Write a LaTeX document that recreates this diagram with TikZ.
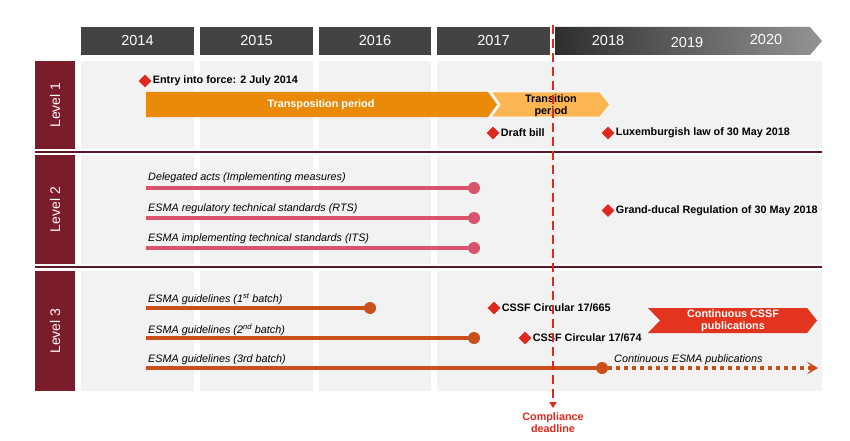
\documentclass[tikz,border=0pt]{standalone}
\usepackage{fontspec}
\setmainfont{Liberation Sans}
\usetikzlibrary{arrows.meta,shapes.geometric}
\definecolor{hdr}{HTML}{434343}
\definecolor{lvl}{HTML}{7B1C2B}
\definecolor{sepc}{HTML}{5C1A25}
\definecolor{bgc}{HTML}{F2F2F2}
\definecolor{orng}{HTML}{EA8A0B}
\definecolor{lorng}{HTML}{FBB552}
\definecolor{pinkl}{HTML}{D9536C}
\definecolor{brnl}{HTML}{C9501B}
\definecolor{redd}{HTML}{E0281E}
\definecolor{cssf}{HTML}{E2341F}
\begin{document}
\begin{tikzpicture}[x=1pt,y=-1pt,
  bigfont/.style={font=\fontsize{14.5}{16}\selectfont},
  yearbox/.style={bigfont,fill=hdr,text=white,minimum height=28pt,inner sep=0pt},
  yeartxt/.style={bigfont,text=white,inner sep=0pt},
  lvlbox/.style={font=\fontsize{14}{16}\selectfont,fill=lvl,text=white,rotate=90,minimum height=40pt,inner sep=0pt},
  bold/.style={font=\bfseries\fontsize{10.8}{12}\selectfont,inner sep=1pt},
  ital/.style={font=\itshape\fontsize{10.8}{12}\selectfont,inner sep=0pt,anchor=west},
  dia/.style={diamond,fill=redd,inner sep=0pt,minimum size=13pt},
  sepline/.style={sepc,line width=2pt},
  l2line/.style={pinkl,line width=3.5pt},
  l3line/.style={brnl,line width=3.5pt},
  dotp/.style={circle,fill=pinkl,inner sep=0pt,minimum size=12pt},
  dotb/.style={circle,fill=brnl,inner sep=0pt,minimum size=12pt},
]
\useasboundingbox (0,0) rectangle (850,441);
\fill[white] (0,0) rectangle (850,441);
% header
\node[yearbox,minimum width=113pt] (y14) at (137.5,41) {2014};
\node[yearbox,minimum width=113pt] (y15) at (256.5,41) {2015};
\node[yearbox,minimum width=112pt] (y16) at (375,41) {2016};
\node[yearbox,minimum width=113pt] (y17) at (493.5,41) {2017};
\shade[left color=black!82,right color=black!42] (555,27) -- (810,27) -- (822,41) -- (810,55) -- (555,55) -- cycle;
\node[yeartxt] (y18) at (608,41) {2018};
\node[yeartxt] (y19) at (687,42.5) {2019};
\node[yeartxt] (y20) at (766,40) {2020};
% background panels
\foreach \ya/\yb in {61/149,155/264,271/391}{
  \fill[bgc] (81,\ya) rectangle (194,\yb);
  \fill[bgc] (200,\ya) rectangle (313,\yb);
  \fill[bgc] (319,\ya) rectangle (431,\yb);
  \fill[bgc] (437,\ya) rectangle (822,\yb);
}
% level boxes
\node[lvlbox,minimum width=88pt] (lv1) at (55,105) {Level 1};
\node[lvlbox,minimum width=109pt] (lv2) at (55,209.5) {Level 2};
\node[lvlbox,minimum width=120pt] (lv3) at (55,331) {Level 3};
\draw[sepline] (35,151.5) -- (822,151.5);
\draw[sepline] (35,266.5) -- (822,266.5);
% level 1
\fill[orng] (146,92) -- (488,92) -- (497,104.5) -- (488,117) -- (146,117) -- cycle;
\node[bold,text=white] (tp) at (321,104.5) {Transposition period};
\filldraw[fill=lorng,draw=white,line width=1pt] (491,92) -- (600,92) -- (610,104.5) -- (600,117) -- (491,117) -- (500,104.5) -- cycle;
\node[bold,align=center,font=\bfseries\fontsize{10.8}{12}\selectfont] (trp) at (551,106) {Transition\\period};
\node[dia] (d1) at (145,81) {};
\node[bold,anchor=west] (t1) at (d1.east) {Entry into force: 2 July 2014};
\node[dia] (d2) at (493,133) {};
\node[bold,anchor=west] (t2) at (d2.east) {Draft bill};
\node[dia] (d3) at (608,133) {};
\node[bold,anchor=west] (t3) at (d3.east) {Luxemburgish law of 30 May 2018};
% level 2
\coordinate (a1) at (146,188);
\coordinate (a2) at (146,218);
\coordinate (a3) at (146,248);
\node[dotp] (e1) at (474,188) {};
\node[dotp] (e2) at (474,218) {};
\node[dotp] (e3) at (474,248) {};
\draw[l2line] (a1) -- (e1.center);
\draw[l2line] (a2) -- (e2.center);
\draw[l2line] (a3) -- (e3.center);
\node[ital] (la1) at (148,178) {Delegated acts (Implementing measures)};
\node[ital] (la2) at (148,208.5) {ESMA regulatory technical standards (RTS)};
\node[ital] (la3) at (148,238.5) {ESMA implementing technical standards (ITS)};
\node[dia] (d4) at (608,210.5) {};
\node[bold,anchor=west] (t4) at (d4.east) {Grand-ducal Regulation of 30 May 2018};
% level 3
\coordinate (b1) at (146,308);
\coordinate (b2) at (146,338);
\coordinate (b3) at (146,368);
\node[dotb] (f1) at (370,308) {};
\node[dotb] (f2) at (474,338) {};
\node[dotb] (f3) at (602,368) {};
\coordinate (fend) at (818,368);
\draw[l3line] (b1) -- (f1.center);
\draw[l3line] (b2) -- (f2.center);
\draw[l3line] (b3) -- (f3.center);
\draw[brnl,line width=3.5pt,dash pattern=on 4pt off 4pt,-{Stealth[length=11pt,width=13pt,inset=5pt,line width=0pt]}] (f3.east) -- (fend);
\node[ital] (lb1) at (148,299.5) {ESMA guidelines (1\textsuperscript{st} batch)};
\node[ital] (lb2) at (148,329.5) {ESMA guidelines (2\textsuperscript{nd} batch)};
\node[ital] (lb3) at (148,359.5) {ESMA guidelines (3rd batch)};
\node[ital] (lb4) at (614,359.5) {Continuous ESMA publications};
\node[dia] (d5) at (494,308) {};
\node[bold,anchor=west] (t5) at (d5.east) {CSSF Circular 17/665};
\node[dia] (d6) at (525,338) {};
\node[bold,anchor=west] (t6) at (d6.east) {CSSF Circular 17/674};
\fill[cssf] (648,308) -- (807,308) -- (817,320.5) -- (807,333) -- (648,333) -- (660,320.5) -- cycle;
\node[bold,text=white,align=center,font=\bfseries\fontsize{10.8}{12.5}\selectfont] (cc) at (733,320.5) {Continuous CSSF\\publications};
% compliance deadline
\coordinate (ctop) at (553,25);
\node[font=\bfseries\fontsize{10.8}{12}\selectfont,text=redd,align=center,inner sep=0pt] (cd) at (553,422.5) {Compliance\\deadline};
\draw[redd,line width=2pt,dash pattern=on 9pt off 5pt,-{Triangle[length=6pt,width=7pt]}] (ctop) -- (553,408);
\end{tikzpicture}
\end{document}
